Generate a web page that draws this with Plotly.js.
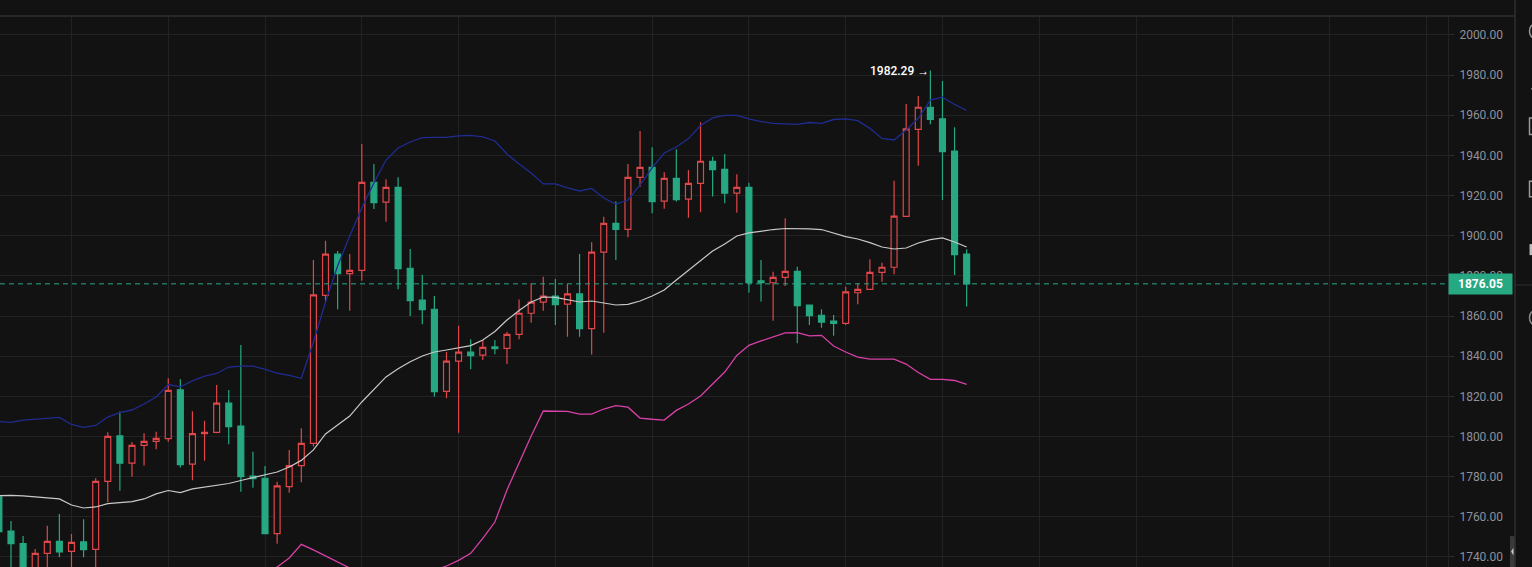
<!DOCTYPE html>
<html>
<head>
<meta charset="utf-8">
<script src="https://cdn.plot.ly/plotly-3.0.1.min.js"></script>
<style>
html,body{margin:0;padding:0;background:#121212;}
#chart{width:1532px;height:567px;}
</style>
</head>
<body>
<div id="chart"></div>
<script>
// Candle OHLC values
const openVals = [1770.0,1752.9,1746.6,1733.0,1741.8,1747.8,1742.8,1747.5,1743.8,1777.7,
  1800.3,1786.7,1795.6,1797.6,1798.9,1823.2,1786.2,1801.4,1802.1,1816.6,
  1805.2,1780.3,1779.2,1751.6,1775.0,1785.5,1796.6,1870.3,1890.8,1881.1,
  1882.8,1926.6,1916.7,1924.1,1883.8,1867.9,1863.4,1822.5,1837.5,1842.0,
  1840.5,1844.6,1843.9,1850.9,1861.4,1866.9,1870.0,1865.9,1871.0,1853.7,
  1891.8,1906.2,1903.2,1929.1,1934.1,1917.2,1928.6,1918.2,1926.1,1937.1,
  1933.1,1921.2,1924.1,1877.5,1876.6,1879.3,1882.3,1865.4,1860.4,1857.5,
  1856.4,1871.6,1873.3,1881.8,1884.3,1909.7,1953.0,1964.0,1958.2,1942.2,1890.9];
const highVals = [1771.0,1757.9,1750.4,1744.0,1755.5,1761.4,1751.4,1758.8,1779.2,1802.1,
  1812.4,1797.3,1801.6,1802.4,1829.0,1828.5,1812.6,1807.9,1825.7,1823.2,
  1845.6,1792.4,1785.3,1777.5,1793.3,1804.1,1887.9,1897.5,1892.4,1890.9,
  1945.7,1935.7,1928.1,1929.1,1893.4,1880.6,1870.0,1842.1,1855.2,1848.4,
  1848.1,1848.1,1852.2,1868.3,1876.3,1879.6,1878.5,1876.0,1890.9,1896.7,
  1909.5,1917.0,1935.7,1952.2,1944.1,1931.6,1943.1,1932.8,1956.5,1939.4,
  1940.7,1930.6,1926.4,1887.9,1882.1,1908.7,1884.6,1865.6,1863.4,1860.5,
  1874.6,1876.3,1888.3,1886.6,1927.4,1965.6,1969.6,1982.29,1977.1,1954.0,1893.3];
const lowVals = [1749.0,1732.0,1725.0,1728.0,1730.0,1739.8,1732.0,1739.8,1735.0,1767.2,
  1773.0,1780.0,1785.5,1793.6,1797.4,1784.5,1778.2,1787.9,1801.6,1796.1,
  1772.5,1774.5,1751.4,1746.6,1772.0,1777.2,1795.0,1867.2,1863.4,1862.7,
  1877.6,1913.3,1907.0,1873.3,1860.0,1855.9,1819.8,1819.0,1801.9,1833.5,
  1838.1,1841.0,1836.1,1848.4,1856.7,1862.7,1855.6,1849.7,1849.7,1840.8,
  1851.7,1887.9,1899.2,1924.4,1911.2,1913.5,1917.0,1909.0,1911.7,1919.5,
  1916.2,1911.5,1871.6,1867.2,1857.7,1875.0,1846.4,1855.6,1854.2,1850.2,
  1855.6,1865.9,1873.0,1877.1,1880.8,1909.5,1934.9,1955.5,1917.8,1880.5,1864.7];
const closeVals = [1752.6,1746.6,1730.0,1741.8,1747.8,1742.5,1747.3,1743.6,1777.7,1800.1,
  1786.7,1795.6,1797.6,1799.1,1823.0,1786.0,1801.4,1802.1,1816.6,1804.9,
  1780.0,1779.0,1751.6,1775.4,1785.5,1796.6,1870.5,1890.8,1881.1,1882.8,
  1926.6,1916.5,1924.1,1883.6,1867.7,1863.2,1822.3,1837.5,1842.0,1840.3,
  1844.4,1843.8,1850.9,1861.4,1866.9,1870.0,1865.7,1871.0,1853.7,1891.8,
  1906.2,1903.2,1929.1,1934.1,1917.0,1928.6,1918.0,1926.1,1937.1,1932.9,
  1921.2,1924.1,1876.6,1876.6,1879.3,1882.3,1865.2,1860.2,1857.0,1856.4,
  1872.0,1873.3,1881.8,1884.3,1909.8,1953.2,1964.0,1958.0,1941.9,1890.6,1876.05];

// Bollinger band lines
const upperBand = [1807.5,1807.0,1808.2,1808.7,1809.0,1809.5,1806.0,1804.6,1805.5,1809.7,
  1811.9,1813.2,1816.2,1819.7,1825.9,1824.7,1827.7,1830.1,1831.4,1834.6,
  1835.1,1835.1,1833.4,1831.6,1830.4,1829.0,1847.1,1867.0,1884.9,1899.9,
  1913.8,1926.3,1937.7,1943.7,1946.7,1948.9,1949.0,1949.0,1949.7,1950.0,
  1949.2,1947.2,1940.7,1935.7,1931.3,1925.8,1925.8,1923.8,1922.3,1923.6,
  1918.8,1915.8,1917.8,1925.3,1933.8,1941.2,1944.2,1948.4,1954.9,1958.7,
  1960.0,1960.0,1958.2,1956.9,1956.0,1955.7,1955.5,1956.4,1956.0,1957.9,
  1958.2,1957.3,1953.5,1948.5,1947.7,1952.7,1958.5,1967.6,1969.0,1965.4,1962.4];
const middleBand = [1770.5,1770.7,1770.4,1769.9,1769.4,1768.9,1765.9,1764.4,1764.9,1766.6,
  1767.1,1767.6,1768.9,1771.4,1773.1,1772.1,1773.9,1774.9,1775.6,1776.6,
  1778.1,1779.6,1781.1,1782.3,1784.8,1788.1,1793.3,1801.3,1805.7,1810.2,
  1817.2,1823.7,1829.7,1833.7,1837.2,1840.1,1842.1,1843.1,1844.1,1845.3,
  1848.1,1852.3,1858.0,1862.8,1867.0,1869.5,1869.3,1868.3,1867.0,1867.5,
  1866.5,1865.5,1865.8,1867.5,1870.0,1873.0,1878.0,1882.9,1887.4,1892.4,
  1895.9,1899.9,1901.4,1902.4,1903.1,1903.6,1903.6,1903.4,1903.1,1901.4,
  1899.6,1898.4,1896.6,1894.4,1893.4,1893.9,1896.4,1898.1,1898.9,1896.9,1894.4];
const lowerBand = [null,null,null,null,null,null,null,null,null,null,
  null,null,null,null,null,null,null,null,null,null,
  null,1723.6,1729.5,1735.0,1739.5,1746.3,1743.5,1740.5,1737.5,1734.1,
  1731.1,1728.1,1725.5,1725.0,1728.5,1731.3,1733.5,1735.5,1738.3,1741.8,
  1749.3,1757.4,1773.4,1787.3,1800.3,1812.7,1812.7,1812.5,1811.1,1811.1,
  1813.7,1815.4,1814.6,1809.2,1808.6,1808.2,1813.0,1816.2,1820.2,1825.9,
  1832.1,1840.4,1845.4,1847.6,1849.6,1851.6,1851.7,1850.1,1850.4,1845.1,
  1842.1,1839.5,1838.5,1838.5,1838.5,1836.1,1831.9,1828.5,1828.5,1827.9,1826.0];

const barIndex = closeVals.map((_, i) => i);
const lastPrice = 1876.05;
const peakIndex = 77;
const peakLabel = '1982.29 →';
const yTickStep = 20;

const BG = '#121212';
const GRID = '#222224';
const UP = '#e0474a';
const DOWN = '#26a882';

const traces = [
  {
    type: 'candlestick',
    x: barIndex, open: openVals, high: highVals, low: lowVals, close: closeVals,
    increasing: {line: {color: UP, width: 1.2}, fillcolor: BG},
    decreasing: {line: {color: DOWN, width: 1.2}, fillcolor: DOWN},
    whiskerwidth: 0, hoverinfo: 'skip', showlegend: false
  },
  {type: 'scatter', mode: 'lines', x: barIndex, y: upperBand,
   line: {color: '#1f2c91', width: 1.3}, hoverinfo: 'skip', showlegend: false},
  {type: 'scatter', mode: 'lines', x: barIndex, y: middleBand,
   line: {color: '#c9c9c9', width: 1.2}, hoverinfo: 'skip', showlegend: false},
  {type: 'scatter', mode: 'lines', x: barIndex, y: lowerBand, connectgaps: false,
   line: {color: '#d940a8', width: 1.3}, hoverinfo: 'skip', showlegend: false}
];

const layout = {
  width: 1532, height: 567,
  margin: {l: 0, r: 84, t: 16, b: 0, pad: 0},
  paper_bgcolor: BG, plot_bgcolor: BG,
  font: {family: 'Roboto, "Noto Sans", sans-serif', color: '#8b8e96', size: 12},
  showlegend: false,
  hovermode: false,
  xaxis: {
    type: 'linear', range: [0.091, 119.79],
    rangeslider: {visible: false},
    showgrid: true, gridcolor: GRID, gridwidth: 1,
    tick0: 6, dtick: 8, showticklabels: false, ticks: '',
    zeroline: false, showline: false, fixedrange: true
  },
  yaxis: {
    side: 'right', range: [1735.0, 2009.46],
    tick0: 0, dtick: yTickStep, tickformat: '.2f',
    showgrid: true, gridcolor: GRID, gridwidth: 1,
    ticks: 'outside', ticklen: 5, tickcolor: '#2c2c2e',
    tickfont: {size: 12, color: '#8e919a'},
    ticklabelstandoff: 3,
    showline: true, linecolor: '#232325', linewidth: 1,
    zeroline: false, fixedrange: true
  },
  shapes: [
    // last price dashed line
    {type: 'line', xref: 'paper', yref: 'y', x0: 0, x1: 1, y0: lastPrice, y1: lastPrice,
     line: {color: '#2aa586', width: 1, dash: '5px,4px'}, layer: 'above'},
    // top separator
    {type: 'line', xref: 'paper', yref: 'paper', x0: 0, x1: 1.0463, y0: 1, y1: 1,
     line: {color: '#2f2f2f', width: 1.5}, layer: 'above'},
    // right panel separator
    {type: 'line', xref: 'paper', yref: 'paper', x0: 1.0463, x1: 1.0463, y0: 0, y1: 1.03,
     line: {color: '#2f2f2f', width: 1.5}, layer: 'above'},
    {type: 'line', xref: 'paper', yref: 'paper', x0: 1.0463, x1: 1.06, y0: 0.5118, y1: 0.5118,
     line: {color: '#2f2f2f', width: 1}, layer: 'above'},
    // scroll handle
    {type: 'rect', xref: 'paper', yref: 'paper', x0: 1.0428, x1: 1.0460, y0: 0, y1: 0.056,
     fillcolor: '#3a3a3c', line: {width: 0}, layer: 'above'},
    {type: 'path', xref: 'paper', yref: 'paper',
     path: 'M 1.0452 0.035 L 1.0436 0.028 L 1.0452 0.021 Z',
     fillcolor: '#cfcfcf', line: {width: 0}, layer: 'above'},
    // toolbar icon fragments
    {type: 'rect', xref: 'paper', yref: 'paper', x0: 1.0563, x1: 1.062, y0: 0.785, y1: 0.815,
     line: {color: '#9a9a9a', width: 1.5}, fillcolor: 'rgba(0,0,0,0)', layer: 'above'},
    {type: 'rect', xref: 'paper', yref: 'paper', x0: 1.0563, x1: 1.062, y0: 0.672, y1: 0.7,
     line: {color: '#9a9a9a', width: 1.5}, fillcolor: 'rgba(0,0,0,0)', layer: 'above'},
    {type: 'rect', xref: 'paper', yref: 'paper', x0: 1.0563, x1: 1.062, y0: 0.566, y1: 0.586,
     line: {width: 0}, fillcolor: '#bdbdbd', layer: 'above'},
    {type: 'circle', xref: 'paper', yref: 'paper', x0: 1.0563, x1: 1.063, y0: 0.44, y1: 0.465,
     line: {color: '#8a8a8a', width: 1.5}, fillcolor: 'rgba(0,0,0,0)', layer: 'above'},
    {type: 'circle', xref: 'paper', yref: 'paper', x0: 1.0563, x1: 1.063, y0: 0.96, y1: 0.985,
     line: {color: '#9a9a9a', width: 1.5}, fillcolor: 'rgba(0,0,0,0)', layer: 'above'},
    {type: 'line', xref: 'paper', yref: 'paper', x0: 1.0575, x1: 1.062, y0: 0.868, y1: 0.868,
     line: {color: '#9a9a9a', width: 1.5}, layer: 'above'}
  ],
  annotations: [
    {xref: 'paper', yref: 'y', x: 1, y: lastPrice, xanchor: 'left', yanchor: 'middle',
     text: '<b>' + lastPrice.toFixed(2) + '</b>', showarrow: false,
     bgcolor: DOWN, font: {color: '#ffffff', size: 12, family: 'Roboto, sans-serif'},
     width: 57, height: 14, borderpad: 3, align: 'center'},
    {xref: 'x', yref: 'y', x: peakIndex, y: highVals[peakIndex], xanchor: 'right', yanchor: 'middle',
     text: peakLabel, showarrow: false, xshift: 1,
     font: {color: '#ffffff', size: 12, family: 'Roboto, sans-serif', weight: 500}}
  ]
};

Plotly.newPlot('chart', traces, layout, {staticPlot: true, displayModeBar: false});
</script>
</body>
</html>
